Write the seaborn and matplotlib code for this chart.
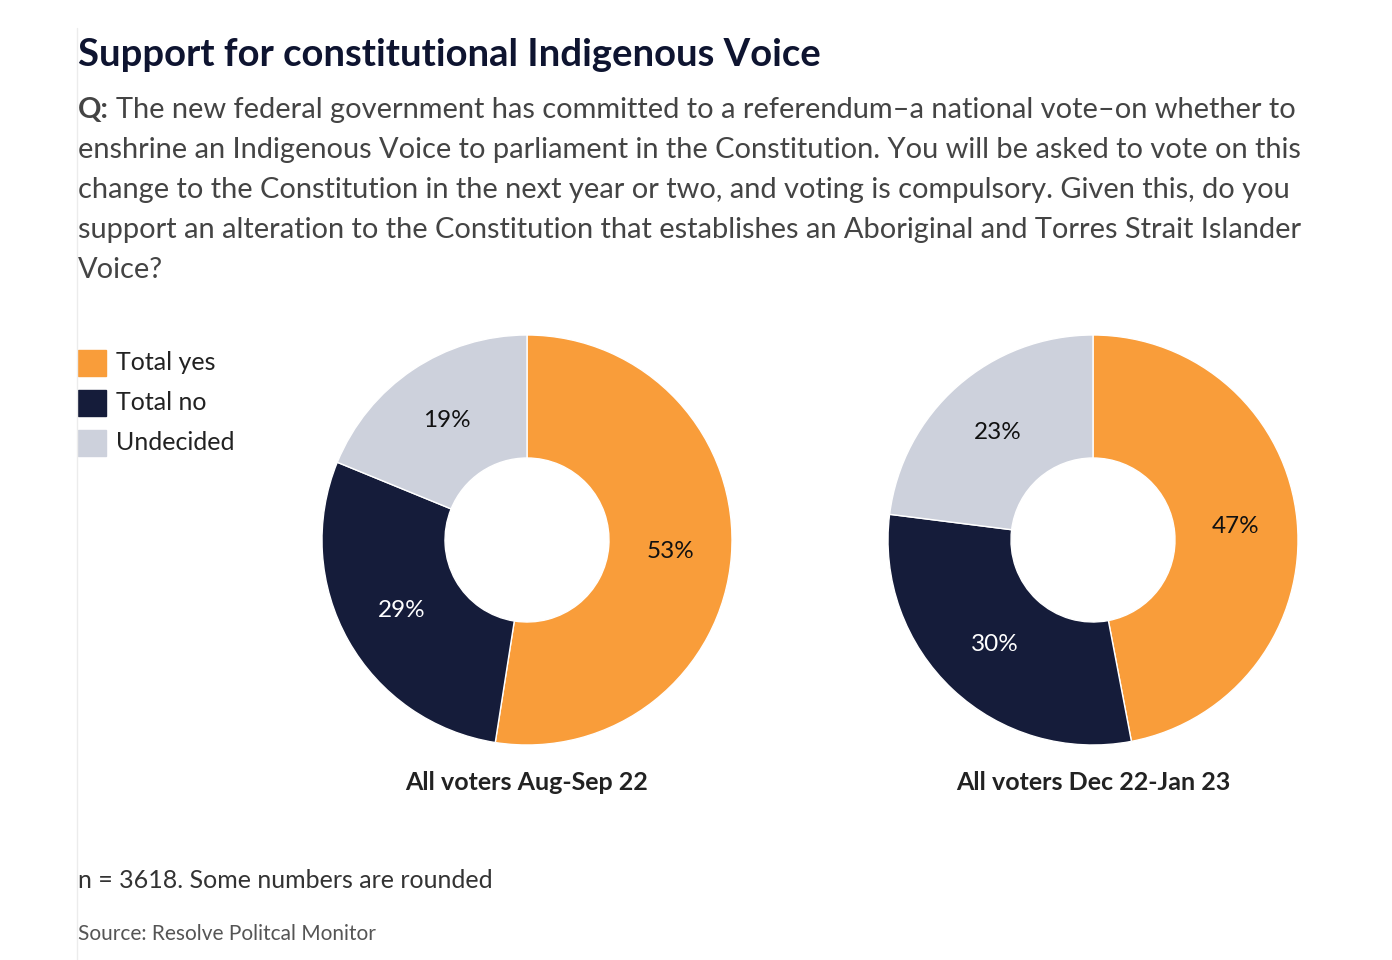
import matplotlib.pyplot as plt
import seaborn as sns

# data
categories = ["Total yes", "Total no", "Undecided"]
aug_sep_22 = [53, 29, 19]
dec22_jan23 = [47, 30, 23]
panel_titles = ["All voters Aug-Sep 22", "All voters Dec 22-Jan 23"]
colours = ["#f99d3a", "#151c3a", "#cdd1dc"]

title = "Support for constitutional Indigenous Voice"
question = [
    "The new federal government has committed to a referendum\u2013a national vote\u2013on whether to",
    "enshrine an Indigenous Voice to parliament in the Constitution. You will be asked to vote on this",
    "change to the Constitution in the next year or two, and voting is compulsory. Given this, do you",
    "support an alteration to the Constitution that establishes an Aboriginal and Torres Strait Islander",
    "Voice?",
]
note = "n = 3618. Some numbers are rounded"
source = "Source: Resolve Politcal Monitor"

sns.set_theme(style="white")
plt.rcParams["font.family"] = ["Lato", "DejaVu Sans"]

W, H = 1392, 960
fig = plt.figure(figsize=(W / 100, H / 100), dpi=100)
fig.patch.set_facecolor("white")

def fx(px):
    return px / W

def fy(py):
    return 1 - py / H

# faint left rule
fig.add_artist(plt.Line2D([fx(77), fx(77)], [fy(28), fy(960)], color="#ececec", lw=1))

fig.text(fx(78), fy(55), title, fontsize=27.5, fontweight="bold", color="#0e1430",
         va="center", ha="left")

qsize = 20.9
for i, line in enumerate(question):
    y = fy(110 + 40 * i)
    if i == 0:
        fig.text(fx(78), y, "Q:", fontsize=qsize, fontweight="bold", color="#444444",
                 va="center", ha="left")
        fig.text(fx(116), y, line, fontsize=qsize, color="#444444", va="center", ha="left")
    else:
        fig.text(fx(78), y, line, fontsize=qsize, color="#444444", va="center", ha="left")

# legend
for i, (cat, col) in enumerate(zip(categories, colours)):
    yc = 363 + 40 * i
    fig.add_artist(plt.Rectangle((fx(78), fy(yc + 13)), fx(28), 26 / H,
                                 color=col, transform=fig.transFigure))
    fig.text(fx(116), fy(yc), cat, fontsize=18, color="#222222", va="center", ha="left")

centres = [527, 1093]
radius_px = 205
for cx, vals, name in zip(centres, [aug_sep_22, dec22_jan23], panel_titles):
    ax = fig.add_axes([fx(cx - radius_px), fy(540 + radius_px),
                       2 * radius_px / W, 2 * radius_px / H])
    wedges, texts, autotexts = ax.pie(
        vals, colors=colours, startangle=90, counterclock=False,
        autopct=lambda p: "", pctdistance=0.7, radius=1,
        wedgeprops=dict(width=0.6, edgecolor="white", linewidth=1),
    )
    for at, v, col in zip(autotexts, vals, colours):
        at.set_text(f"{v}%")
        at.set_fontsize(17.5)
        at.set_color("white" if col == "#151c3a" else "#111111")
    ax.set_xlim(-1, 1)
    ax.set_ylim(-1, 1)
    ax.set_aspect("equal")
    ax.axis("off")
    fig.text(fx(cx), fy(783), name, fontsize=18, fontweight="bold", color="#222222",
             ha="center", va="center")

fig.text(fx(78), fy(880), note, fontsize=18, color="#333333", va="center", ha="left")
fig.text(fx(78), fy(934), source, fontsize=15, color="#555555", va="center", ha="left")

fig.savefig("out.png", dpi=100, facecolor="white")
